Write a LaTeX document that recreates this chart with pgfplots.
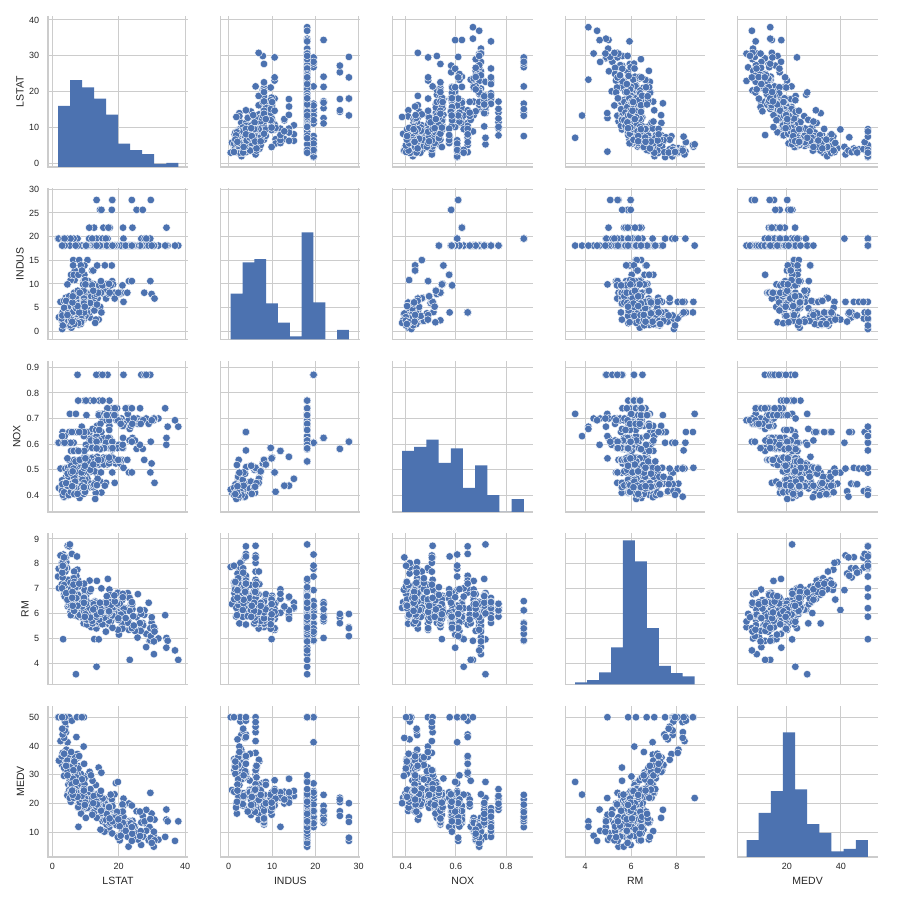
\documentclass[border=0pt]{standalone}
\usepackage{pgfplots}
\pgfplotsset{compat=1.18}
\usepackage{pgfplotstable}
\usepackage{fontspec}
\setmainfont{Liberation Sans}
\definecolor{sb}{HTML}{4C72B0}
\definecolor{gridc}{HTML}{CCCCCC}
\definecolor{labc}{HTML}{262626}

\pgfplotstableread{
L I N R M
4.98 2.31 0.538 6.575 24.0
9.14 7.07 0.469 6.421 21.6
4.03 7.07 0.469 7.185 34.7
2.94 2.18 0.458 6.998 33.4
5.33 2.18 0.458 7.147 36.2
5.21 2.18 0.458 6.430 28.7
12.43 7.87 0.524 6.012 22.9
19.15 7.87 0.524 6.172 27.1
29.93 7.87 0.524 5.631 16.5
20.45 7.87 0.524 6.377 15.0
15.71 7.87 0.524 5.889 21.7
10.26 8.14 0.538 6.096 18.2
6.58 8.14 0.538 5.935 23.1
11.69 8.14 0.538 5.456 20.2
21.02 8.14 0.538 5.570 13.6
18.72 8.14 0.538 6.142 15.2
16.51 8.14 0.538 5.599 13.9
12.80 8.14 0.538 6.495 18.4
22.60 8.14 0.538 5.713 12.7
27.71 8.14 0.538 5.950 13.2
20.34 8.14 0.538 6.096 13.5
9.68 5.96 0.499 5.933 18.9
8.77 5.96 0.499 5.850 21.0
4.32 2.95 0.428 6.595 30.8
1.98 2.95 0.428 7.024 34.9
4.84 6.91 0.448 6.770 26.6
7.44 6.91 0.448 6.211 24.7
10.21 6.91 0.448 5.682 19.3
18.80 6.91 0.448 6.030 16.6
30.81 6.91 0.448 5.399 14.4
16.20 6.91 0.448 5.602 19.4
9.43 5.64 0.439 6.115 20.5
5.28 5.64 0.439 6.511 25.0
14.80 4.00 0.410 5.888 18.9
4.81 1.22 0.403 7.249 35.4
5.77 0.74 0.410 6.383 24.7
3.95 1.32 0.411 6.816 31.6
9.22 5.13 0.453 5.927 19.6
14.44 5.13 0.453 5.966 16.0
9.50 5.13 0.453 6.762 25.0
8.05 1.38 0.416 7.104 33.0
4.67 3.37 0.398 6.290 23.5
8.10 6.07 0.409 5.878 22.0
13.09 6.07 0.409 5.594 17.4
6.72 10.81 0.413 6.417 24.2
5.52 10.81 0.413 6.065 22.8
6.78 12.83 0.437 6.273 24.1
11.97 12.83 0.437 6.279 20.0
12.34 12.83 0.437 6.232 21.2
5.29 4.86 0.426 6.727 28.0
6.72 4.86 0.426 6.302 24.8
9.62 4.49 0.449 6.389 23.9
12.86 4.49 0.449 6.015 22.5
5.50 3.41 0.489 7.007 23.6
5.70 3.41 0.489 7.079 28.7
8.20 3.41 0.489 6.405 22.0
6.30 15.04 0.464 6.442 22.5
8.10 15.04 0.464 6.211 22.6
10.60 15.04 0.464 6.249 24.4
8.32 2.89 0.445 6.625 28.4
11.34 2.89 0.445 6.163 21.4
4.21 2.89 0.445 8.069 38.7
3.57 2.89 0.445 7.820 43.8
6.19 2.89 0.445 7.416 33.2
9.42 8.56 0.520 6.727 27.5
7.67 8.56 0.520 6.781 26.5
13.44 8.56 0.520 6.137 19.3
16.47 8.56 0.520 5.851 19.5
14.09 8.56 0.520 6.127 20.4
15.55 8.56 0.520 6.229 19.4
10.16 10.01 0.547 6.715 22.8
16.21 10.01 0.547 5.913 18.8
10.45 10.01 0.547 6.254 18.5
12.04 10.01 0.547 6.176 21.2
15.37 10.01 0.547 5.872 20.4
14.37 25.65 0.581 5.870 22.0
17.93 25.65 0.581 5.961 20.5
25.41 25.65 0.581 5.856 17.3
14.81 25.65 0.581 5.986 21.4
27.26 25.65 0.581 5.613 15.7
17.19 21.89 0.624 5.693 16.2
15.39 21.89 0.624 6.431 18.0
12.60 21.89 0.624 6.458 19.2
11.12 21.89 0.624 6.372 23.0
17.31 21.89 0.624 5.757 15.6
16.90 21.89 0.624 5.942 17.4
21.32 21.89 0.624 5.857 13.3
24.16 21.89 0.624 6.174 14.0
34.41 21.89 0.624 5.019 14.4
26.82 19.58 0.871 5.403 13.4
29.29 19.58 0.871 4.903 11.8
27.80 19.58 0.871 6.130 13.8
16.65 19.58 0.871 5.628 15.6
29.53 19.58 0.871 4.926 14.6
28.32 19.58 0.871 5.186 17.8
21.45 19.58 0.871 5.597 15.4
14.10 19.58 0.871 6.122 21.5
13.28 19.58 0.871 5.404 19.6
7.60 19.58 0.871 6.500 23.0
15.12 19.58 0.871 6.129 17.0
16.14 19.58 0.605 5.272 13.1
4.59 19.58 0.605 6.943 41.3
6.43 19.58 0.605 6.066 24.3
5.50 19.58 0.605 6.250 27.0
1.73 19.58 0.605 7.489 50.0
1.92 19.58 0.605 7.802 50.0
3.32 19.58 0.605 8.375 50.0
11.64 19.58 0.605 5.854 22.7
3.70 19.58 0.605 7.929 50.0
11.10 19.58 0.605 6.319 23.8
12.03 19.58 0.605 5.880 17.4
9.04 4.05 0.510 6.416 23.1
10.11 4.05 0.510 6.020 29.4
6.29 4.05 0.510 6.315 23.2
5.04 2.46 0.488 6.980 29.9
7.56 2.46 0.488 7.765 37.2
9.45 2.46 0.488 6.144 39.8
4.82 2.46 0.488 7.155 36.2
13.98 2.46 0.488 5.604 32.5
13.15 2.46 0.488 6.153 26.4
4.45 2.46 0.488 7.831 50.0
6.68 3.44 0.437 6.782 32.0
5.39 3.44 0.437 7.185 34.9
5.10 3.44 0.437 6.951 37.0
2.87 3.44 0.437 7.178 36.4
5.03 2.93 0.401 6.800 31.1
2.97 0.46 0.422 7.875 50.0
4.08 1.52 0.404 7.287 33.3
8.61 1.52 0.404 7.107 30.3
4.56 1.47 0.403 6.975 34.9
7.43 2.03 0.415 6.162 24.1
3.11 2.03 0.415 7.610 42.3
3.81 2.68 0.416 7.853 48.5
2.88 2.68 0.416 8.034 50.0
10.87 10.59 0.489 5.891 22.6
18.06 10.59 0.489 5.783 22.5
23.09 10.59 0.489 5.344 20.0
23.98 10.59 0.489 5.404 19.3
9.38 10.59 0.489 6.375 28.1
29.55 10.59 0.489 5.412 23.7
9.47 10.59 0.489 6.182 25.0
13.51 13.89 0.550 5.888 23.3
9.69 13.89 0.550 6.642 28.7
17.92 13.89 0.550 5.951 21.5
9.71 6.20 0.507 6.951 26.7
21.46 6.20 0.507 6.164 21.7
7.60 6.20 0.507 6.618 30.1
4.14 6.20 0.507 8.266 44.8
4.63 6.20 0.507 8.725 50.0
3.13 6.20 0.504 8.040 37.6
3.92 6.20 0.504 7.686 46.7
11.65 6.20 0.504 5.981 24.3
2.47 6.20 0.504 8.337 41.7
3.95 6.20 0.504 8.247 48.3
10.88 6.20 0.507 6.086 24.0
4.73 6.20 0.507 7.358 31.5
6.36 5.86 0.431 6.481 23.7
11.38 5.86 0.431 6.897 22.0
12.40 5.86 0.431 6.095 20.1
5.19 5.86 0.431 6.393 23.7
12.34 5.86 0.431 5.593 17.6
9.45 5.86 0.431 5.605 18.5
10.15 5.86 0.431 6.226 20.5
3.53 3.64 0.392 6.957 29.6
3.54 3.75 0.394 8.259 42.8
3.11 3.97 0.647 7.454 44.0
5.12 3.97 0.647 8.704 50.0
7.79 3.97 0.647 7.333 36.0
6.90 3.97 0.647 6.842 30.1
7.26 3.97 0.647 7.520 43.1
5.91 3.97 0.647 8.398 48.8
11.25 3.97 0.647 7.327 31.0
10.45 3.97 0.647 5.560 22.8
14.79 3.97 0.647 7.014 30.7
7.44 3.97 0.575 8.297 50.0
13.65 6.96 0.464 5.920 20.7
6.59 6.96 0.464 6.240 25.2
6.58 6.96 0.464 7.691 35.2
3.53 6.41 0.447 6.758 32.4
6.05 6.41 0.447 7.267 33.2
7.19 6.41 0.447 6.482 29.1
3.76 3.33 0.443 7.820 45.4
3.01 3.33 0.443 7.645 46.0
3.16 1.21 0.401 7.923 50.0
7.85 2.97 0.400 7.088 32.2
8.23 2.25 0.389 6.453 22.0
12.93 1.76 0.385 6.230 20.1
7.14 5.32 0.405 6.209 23.2
9.51 5.32 0.405 6.565 24.8
3.56 4.95 0.411 7.148 37.3
8.58 13.92 0.437 6.127 23.9
6.27 13.92 0.437 6.678 28.6
15.84 13.92 0.437 5.790 20.3
4.97 2.24 0.400 6.345 22.5
9.50 6.09 0.433 6.590 22.0
4.86 2.18 0.472 6.982 33.1
6.93 2.18 0.472 7.236 36.1
8.93 2.18 0.472 6.616 28.4
6.47 2.18 0.472 7.420 33.4
4.54 9.90 0.544 6.635 22.8
12.64 9.90 0.544 4.973 16.1
11.72 9.90 0.544 6.023 19.4
9.28 9.90 0.544 6.567 23.8
18.33 9.90 0.544 5.914 17.8
15.94 9.90 0.544 5.782 19.8
10.36 9.90 0.544 6.382 23.1
7.20 7.38 0.493 6.426 23.8
11.74 7.38 0.493 5.708 18.5
5.08 7.38 0.493 6.431 24.6
12.79 7.38 0.493 6.083 22.2
9.97 3.24 0.460 5.868 19.3
9.09 3.24 0.460 6.144 19.8
12.43 6.06 0.438 5.706 17.1
5.68 5.19 0.515 6.316 22.2
8.01 5.19 0.515 6.037 21.1
10.56 5.19 0.515 5.895 18.5
9.74 5.19 0.515 5.985 19.0
5.49 1.52 0.442 7.241 32.7
8.65 1.89 0.518 6.540 16.5
4.61 3.78 0.484 6.874 31.2
12.67 4.39 0.442 5.898 17.2
6.36 4.15 0.429 6.516 23.1
5.89 2.01 0.435 6.939 26.6
5.49 1.25 0.429 6.579 24.1
7.79 1.69 0.411 5.884 18.6
5.57 1.91 0.413 5.936 20.6
17.21 18.1 0.770 5.880 17.8
14.19 18.1 0.770 6.212 22.7
11.48 18.1 0.770 6.251 25.0
9.69 18.1 0.770 6.103 20.8
7.79 18.1 0.770 6.398 18.8
5.29 18.1 0.718 8.780 21.9
7.12 18.1 0.718 3.561 27.5
14.00 18.1 0.718 4.963 21.9
13.33 18.1 0.631 3.863 23.1
3.26 18.1 0.631 4.970 50.0
3.73 18.1 0.631 6.683 50.0
2.96 18.1 0.631 7.016 50.0
9.53 18.1 0.631 6.216 50.0
8.88 18.1 0.668 5.875 50.0
34.77 18.1 0.668 4.906 13.8
37.97 18.1 0.668 4.138 13.8
13.44 18.1 0.671 7.313 15.0
23.24 18.1 0.671 6.649 13.9
21.78 18.1 0.671 6.223 10.2
17.21 18.1 0.671 6.968 10.4
21.08 18.1 0.671 6.545 10.9
23.60 18.1 0.700 5.536 11.3
30.63 18.1 0.700 4.368 8.8
28.28 18.1 0.700 4.652 10.5
31.99 18.1 0.700 5.000 7.4
20.85 18.1 0.700 5.390 11.5
18.76 18.1 0.700 6.051 23.2
25.68 18.1 0.700 5.036 9.7
15.17 18.1 0.693 6.193 13.8
19.92 18.1 0.693 5.747 8.5
30.59 18.1 0.693 5.453 5.0
26.77 18.1 0.693 5.987 5.6
20.32 18.1 0.693 6.343 7.2
27.38 18.1 0.693 5.531 8.5
22.98 18.1 0.693 5.683 5.0
23.34 18.1 0.659 4.138 11.9
12.13 18.1 0.659 5.608 27.9
26.40 18.1 0.597 5.617 17.2
19.78 18.1 0.597 6.852 27.5
10.11 18.1 0.597 5.757 15.0
34.37 18.1 0.597 4.628 17.9
20.08 18.1 0.597 5.155 16.3
36.98 18.1 0.693 4.519 7.0
29.05 18.1 0.679 6.434 7.2
25.79 18.1 0.679 6.782 7.5
26.64 18.1 0.679 5.304 10.4
22.74 18.1 0.718 6.824 8.4
15.02 18.1 0.718 6.411 16.7
14.10 18.1 0.614 5.648 20.8
23.29 18.1 0.614 6.103 13.4
17.16 18.1 0.584 5.565 11.7
24.39 18.1 0.679 5.896 8.3
21.52 18.1 0.679 6.193 11.0
19.69 18.1 0.584 6.833 14.1
12.03 18.1 0.584 6.425 16.1
23.27 18.1 0.740 6.629 13.4
18.05 18.1 0.740 6.461 9.6
26.45 18.1 0.740 6.152 8.7
34.02 18.1 0.740 5.935 8.4
22.88 18.1 0.740 5.627 12.8
16.59 18.1 0.740 6.219 18.4
18.13 18.1 0.713 6.185 14.1
16.74 18.1 0.713 7.393 17.8
19.01 18.1 0.713 5.976 12.7
14.70 18.1 0.713 6.081 20.0
13.99 18.1 0.713 6.317 19.5
10.29 18.1 0.713 6.513 20.2
13.22 18.1 0.655 6.209 21.4
17.15 18.1 0.655 5.952 19.0
21.32 18.1 0.584 6.003 19.1
14.76 18.1 0.580 5.713 20.1
11.66 18.1 0.614 6.980 29.8
24.91 18.1 0.614 5.304 12.0
13.11 18.1 0.614 6.229 21.4
10.74 18.1 0.532 6.242 23.0
7.74 18.1 0.532 6.750 23.7
10.42 18.1 0.583 5.762 21.8
14.98 18.1 0.583 6.114 19.1
18.06 27.74 0.609 5.454 15.2
23.97 27.74 0.609 5.414 7.0
29.68 27.74 0.609 5.093 8.1
18.07 27.74 0.609 5.983 13.6
13.35 27.74 0.609 5.983 20.1
12.01 9.69 0.585 5.707 21.8
17.60 9.69 0.585 5.670 23.1
21.14 9.69 0.585 5.390 19.7
14.10 9.69 0.585 5.794 18.3
15.10 9.69 0.585 5.569 17.5
9.67 11.93 0.573 6.593 22.4
5.64 11.93 0.573 6.976 23.9
6.48 11.93 0.573 6.794 22.0
7.88 11.93 0.573 6.030 11.9
15.17 18.1 0.770 6.130 21.7
12.50 18.1 0.770 6.375 22.6
10.16 18.1 0.770 6.395 19.9
23.69 18.1 0.671 6.380 13.1
21.24 18.1 0.671 6.794 13.3
24.56 18.1 0.700 5.520 12.3
30.81 18.1 0.700 5.277 7.2
30.62 18.1 0.700 4.880 10.2
17.11 18.1 0.700 5.713 15.1
16.35 18.1 0.693 5.887 12.7
17.12 18.1 0.693 6.471 13.1
19.37 18.1 0.693 6.405 12.5
29.97 18.1 0.693 5.852 6.3
20.31 18.1 0.693 6.404 12.1
19.77 18.1 0.693 5.349 8.3
21.22 18.1 0.597 6.657 17.2
20.62 18.1 0.679 5.957 8.8
15.70 18.1 0.718 6.006 14.2
15.69 18.1 0.584 5.837 10.2
14.52 18.1 0.679 6.202 10.9
24.08 18.1 0.679 6.380 9.5
17.64 18.1 0.584 6.348 14.5
16.22 18.1 0.713 6.436 14.3
22.11 18.1 0.740 5.818 10.5
19.52 18.1 0.740 6.406 17.1
18.85 18.1 0.740 6.485 15.4
23.98 18.1 0.740 6.459 11.8
17.44 18.1 0.713 6.749 13.4
18.71 18.1 0.713 6.728 14.9
16.42 18.1 0.713 6.701 16.4
14.13 18.1 0.655 5.759 19.9
18.13 18.1 0.580 5.926 19.1
12.87 18.1 0.532 6.229 19.6
14.36 18.1 0.580 6.437 23.2
18.14 18.1 0.584 5.427 13.8
7.01 18.1 0.532 7.061 25.0
13.34 18.1 0.583 5.871 20.6
17.10 7.87 0.524 6.004 18.9
13.27 7.87 0.524 6.009 18.9
8.26 8.14 0.538 5.949 20.4
14.67 8.14 0.538 5.990 17.5
13.83 8.14 0.538 5.965 19.6
19.88 8.14 0.538 5.813 14.5
17.28 8.14 0.538 6.047 14.8
11.41 5.96 0.499 5.841 20.0
9.55 6.91 0.448 6.069 21.2
13.45 5.64 0.439 5.963 19.7
6.86 5.13 0.453 6.145 23.3
9.88 10.81 0.413 5.961 21.7
8.94 12.83 0.437 6.286 21.4
7.22 4.86 0.426 6.619 23.9
8.81 3.41 0.489 6.417 22.6
12.33 8.56 0.520 6.167 20.1
17.09 10.01 0.547 6.092 18.7
5.68 2.46 0.488 6.563 37.9
4.56 3.44 0.437 6.556 29.8
6.62 1.52 0.404 7.274 34.6
14.66 10.59 0.489 6.064 24.4
6.36 6.20 0.504 7.163 31.6
9.54 6.20 0.507 6.631 25.1
6.57 5.86 0.431 6.108 24.3
9.52 5.86 0.431 6.433 24.5
9.59 3.97 0.647 7.203 33.8
8.10 3.97 0.647 7.206 36.5
4.16 6.41 0.447 6.826 33.1
7.60 5.32 0.405 6.315 22.3
6.07 6.09 0.433 6.871 24.8
9.97 9.90 0.544 5.972 20.3
6.15 7.38 0.493 6.312 23.0
9.80 5.19 0.515 5.869 19.5
5.99 2.01 0.435 6.635 24.5
}\data

\pgfplotsset{
  base/.style={scale only axis, width=140pt, height=151pt, anchor=south west,
    axis line style={draw=none}, major tick length=0pt, tick style={draw=none},
    xmajorgrids, ymajorgrids, major grid style={draw=gridc, line width=1pt},
    xticklabels={}, yticklabels={},
    tick label style={font=\fontsize{9}{10}\selectfont, text=labc},
    xticklabel style={inner sep=0pt, anchor=north, yshift=-6.5pt},
    yticklabel style={inner sep=0pt, anchor=east, xshift=-8.7pt},
    label style={font=\fontsize{10.5}{12}\selectfont, text=labc},
    xlabel style={at={(axis description cs:0.5,-0.159)}, anchor=center},
    clip=false,
    after end axis/.code={\draw[gridc, line width=1.25pt] (rel axis cs:0,1) -- (rel axis cs:0,0) -- (rel axis cs:1,0);}},
  pts/.style={only marks, mark=*, mark size=3.8pt, mark options={fill=sb, draw=white, line width=0.4pt}},
  xL/.style={xmin=-1.3, xmax=40.9, xtick={0,20,40}},
  yL/.style={ymin=-1.03, ymax=41.1, ytick={0,10,20,30,40}},
  xI/.style={xmin=-1.92, xmax=30.39, xtick={0,10,20,30}},
  yI/.style={ymin=-1.75, ymax=30.17, ytick={0,5,10,15,20,25,30}},
  xN/.style={xmin=0.348, xmax=0.907, xtick={0.4,0.6,0.8}},
  yN/.style={ymin=0.334, ymax=0.925, ytick={0.4,0.5,0.6,0.7,0.8,0.9}},
  xR/.style={xmin=3.127, xmax=9.24, xtick={4,6,8}},
  yR/.style={ymin=3.148, ymax=9.22, ytick={4,5,6,7,8,9}},
  xM/.style={xmin=1.7, xmax=53.6, xtick={20,40}},
  yM/.style={ymin=1.4, ymax=53.9, ytick={10,20,30,40,50}},
  xLl/.style={xticklabels={0,20,40}, xlabel={LSTAT}},
  xIl/.style={xticklabels={0,10,20,30}, xlabel={INDUS}},
  xNl/.style={xticklabels={0.4,0.6,0.8}, xlabel={NOX}},
  xRl/.style={xticklabels={4,6,8}, xlabel={RM}},
  xMl/.style={xticklabels={20,40}, xlabel={MEDV}},
  yLl/.style={yticklabels={0,10,20,30,40}, ylabel={LSTAT}, ylabel style={at={(axis description cs:-0.2,0.5)}, anchor=center}},
  yIl/.style={yticklabels={0,5,10,15,20,25,30}, ylabel={INDUS}, ylabel style={at={(axis description cs:-0.2,0.5)}, anchor=center}},
  yNl/.style={yticklabels={0.4,0.5,0.6,0.7,0.8,0.9}, ylabel={NOX}, ylabel style={at={(axis description cs:-0.224,0.5)}, anchor=center}},
  yRl/.style={yticklabels={4,5,6,7,8,9}, ylabel={RM}, ylabel style={at={(axis description cs:-0.164,0.5)}, anchor=center}},
  yMl/.style={yticklabels={10,20,30,40,50}, ylabel={MEDV}, ylabel style={at={(axis description cs:-0.196,0.5)}, anchor=center}},
}

% scatter panel: x, y, xstyle, ystyle, xcol, ycol
\newcommand\scpanel[6]{%
  \begin{axis}[base, at={(#1pt,#2pt)}, #3, #4]
    \addplot[pts] table[x=#5, y=#6] {\data};
  \end{axis}}
% diagonal panel frame
\newcommand\dgpanel[4]{%
  \begin{axis}[base, at={(#1pt,#2pt)}, #3, #4]
  \end{axis}}
% histogram overlay: x, y, xstyle, coordinates
\newcommand\hspanel[4]{%
  \begin{axis}[scale only axis, width=140pt, height=151pt, anchor=south west,
      at={(#1pt,#2pt)}, #3, ymin=0, ymax=187.7, hide axis, clip=false, ybar interval]
    \addplot[fill=sb, draw=none] coordinates {#4};
  \end{axis}}

\begin{document}
\begin{tikzpicture}
\useasboundingbox (0,0) rectangle (900pt,900pt);
\fill[white] (0,0) rectangle (900pt,900pt);
% row 1: LSTAT
\dgpanel{48}{733}{xL}{yL,yLl}
\hspanel{48}{733}{xL}{(1.73,76) (5.354,108) (8.978,99) (12.602,85) (16.226,65) (19.85,29) (23.474,21) (27.098,16) (30.722,4) (34.346,5) (37.97,5)}
\scpanel{220.4}{733}{xI}{yL}{I}{L}
\scpanel{392.8}{733}{xN}{yL}{N}{L}
\scpanel{565.2}{733}{xR}{yL}{R}{L}
\scpanel{737.6}{733}{xM}{yL}{M}{L}
% row 2: INDUS
\scpanel{48}{560.5}{xL}{yI,yIl}{L}{I}
\dgpanel{220.4}{560.5}{xI}{yI}
\hspanel{220.4}{560.5}{xI}{(0.46,57) (3.188,96) (5.916,100) (8.644,45) (11.372,21) (14.1,4) (16.828,133) (19.556,46) (22.284,0) (25.012,12) (27.74,12)}
\scpanel{392.8}{560.5}{xN}{yI}{N}{I}
\scpanel{565.2}{560.5}{xR}{yI}{R}{I}
\scpanel{737.6}{560.5}{xM}{yI}{M}{I}
% row 3: NOX
\scpanel{48}{388}{xL}{yN,yNl}{L}{N}
\scpanel{220.4}{388}{xI}{yN}{I}{N}
\dgpanel{392.8}{388}{xN}{yN}
\hspanel{392.8}{388}{xN}{(0.385,76) (0.4336,81) (0.4822,90) (0.5308,61) (0.5794,79) (0.628,30) (0.6766,58) (0.7252,21) (0.7738,0) (0.8224,16) (0.871,16)}
\scpanel{565.2}{388}{xR}{yN}{R}{N}
\scpanel{737.6}{388}{xM}{yN}{M}{N}
% row 4: RM
\scpanel{48}{215.5}{xL}{yR,yRl}{L}{R}
\scpanel{220.4}{215.5}{xI}{yR}{I}{R}
\scpanel{392.8}{215.5}{xN}{yR}{N}{R}
\dgpanel{565.2}{215.5}{xR}{yR}
\hspanel{565.2}{215.5}{xR}{(3.561,2.5) (4.083,5.3) (4.605,15) (5.127,46) (5.649,179) (6.171,153) (6.692,70) (7.214,23) (7.736,14) (8.258,10) (8.78,10)}
\scpanel{737.6}{215.5}{xM}{yR}{M}{R}
% row 5: MEDV
\scpanel{48}{43}{xL,xLl}{yM,yMl}{L}{M}
\scpanel{220.4}{43}{xI,xIl}{yM}{I}{M}
\scpanel{392.8}{43}{xN,xNl}{yM}{N}{M}
\scpanel{565.2}{43}{xR,xRl}{yM}{R}{M}
\dgpanel{737.6}{43}{xM,xMl}{yM}
\hspanel{737.6}{43}{xM}{(5,21) (9.5,55) (14,82) (18.5,155) (23,84) (27.5,41) (32,30) (36.5,7) (41,10) (45.5,21) (50,21)}
\end{tikzpicture}
\end{document}
